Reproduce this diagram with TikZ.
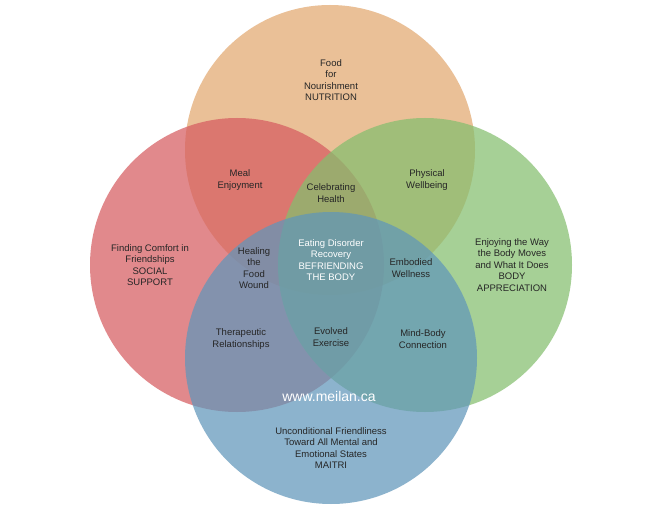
\documentclass[tikz,border=0pt]{standalone}
\usepackage{fontspec}
\setmainfont{Liberation Sans}
\definecolor{corange}{RGB}{226,168,112}
\definecolor{cred}{RGB}{214,92,96}
\definecolor{cgreen}{RGB}{132,190,110}
\definecolor{cblue}{RGB}{96,150,186}
\begin{document}
\begin{tikzpicture}[x=1pt,y=-1pt,
  lbl/.style={align=center,font=\fontsize{9.5}{11.5}\selectfont,text=black!85},
  circ/.style={fill opacity=0.72,draw=none}]
\useasboundingbox (0,0) rectangle (667,532);
\fill[white] (0,0) rectangle (667,532);
\fill[corange,circ] (330,150) circle (145);
\fill[cred,circ] (237,265) circle (147);
\fill[cgreen,circ] (425,265) circle (147);
\fill[cblue,circ] (331,358) circle (146);
\node[lbl] (n1) at (331,80) {Food\\for\\Nourishment\\NUTRITION};
\node[lbl] (n2) at (150,265) {Finding Comfort in\\Friendships\\SOCIAL\\SUPPORT};
\node[lbl] (n3) at (512,265) {Enjoying the Way\\the Body Moves\\and What It Does\\BODY\\APPRECIATION};
\node[lbl] (n4) at (331,448) {Unconditional Friendliness\\Toward All Mental and\\Emotional States\\MAITRI};
\node[lbl] (n5) at (240,180) {Meal\\Enjoyment};
\node[lbl] (n6) at (331,193) {Celebrating\\Health};
\node[lbl] (n7) at (427,180) {Physical\\Wellbeing};
\node[lbl] (n8) at (254,268) {Healing\\the\\Food\\Wound};
\node[lbl,text=white] (n9) at (331,260) {Eating Disorder\\Recovery\\BEFRIENDING\\THE BODY};
\node[lbl] (n10) at (411,268) {Embodied\\Wellness};
\node[lbl] (n11) at (241,339) {Therapeutic\\Relationships};
\node[lbl] (n12) at (331,337) {Evolved\\Exercise};
\node[lbl] (n13) at (423,339) {Mind-Body\\Connection};
\node[text=white,font=\fontsize{14}{16}\selectfont] (w) at (329,396) {www.meilan.ca};
\end{tikzpicture}
\end{document}
